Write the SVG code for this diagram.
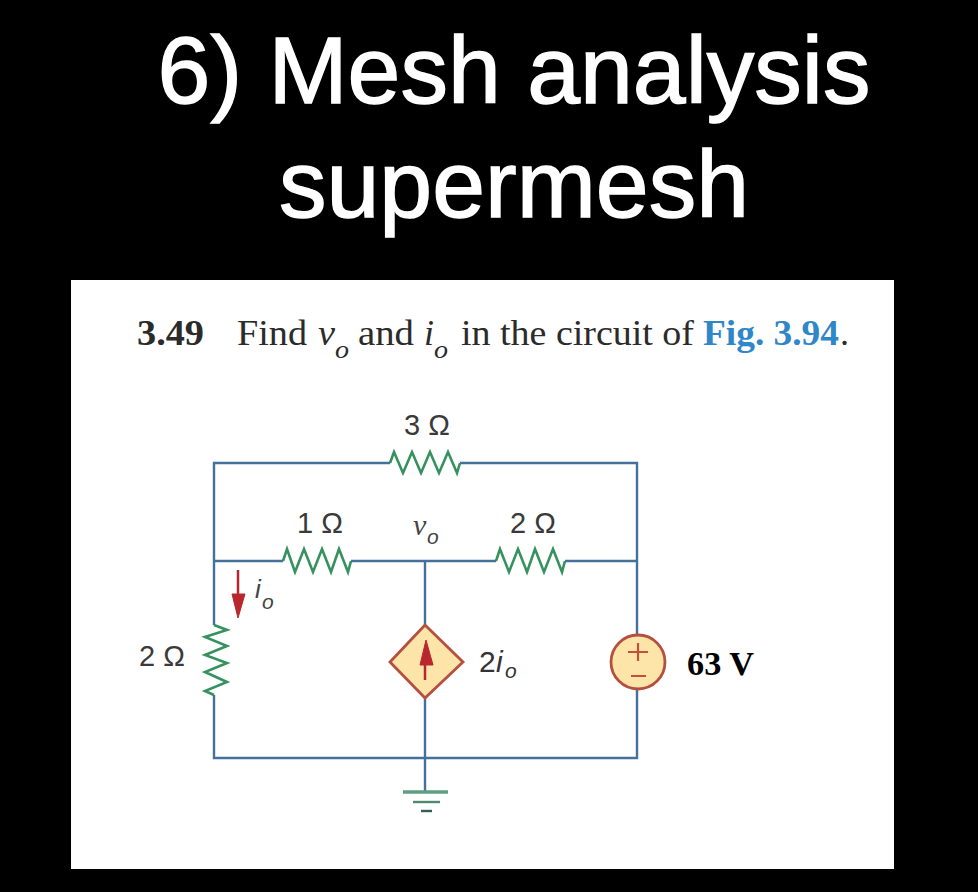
<svg xmlns="http://www.w3.org/2000/svg" width="978" height="892" viewBox="0 0 978 892">
<style>
.t{font-family:"Liberation Sans",Arial,sans-serif;fill:#fff;stroke:#fff;stroke-width:1.4px;font-size:95px;text-anchor:middle}
.s{font-family:"Liberation Serif","Times New Roman",serif;font-size:36px;fill:#2b2b2b}
.i{font-style:italic}
.f{font-family:"Liberation Serif","Times New Roman",serif;font-size:25px;font-style:italic;fill:#2b2b2b}
.l{font-family:"Liberation Sans",Arial,sans-serif;font-size:29px;fill:#3a3a3a;text-anchor:middle}
.q{font-family:"Liberation Sans",Arial,sans-serif;fill:#444}
.w{fill:none;stroke:#44709c;stroke-width:2.4}
.r{fill:none;stroke:#35925e;stroke-width:2.6;stroke-linejoin:miter}
.d{fill:#fde4a8;stroke:#b5503f;stroke-width:2.8}
.a{fill:#b8272e;stroke:#b8272e}
</style>
<rect width="978" height="892" fill="#000"/>
<text class="t" x="514" y="103">6) Mesh analysis</text>
<text class="t" x="514" y="217">supermesh</text>
<rect x="71" y="280" width="823" height="589" fill="#fff"/>
<g id="problem">
<text class="s" x="137" y="345" font-weight="bold" textLength="67" lengthAdjust="spacingAndGlyphs">3.49</text>
<text class="s" x="237" y="345" textLength="70" lengthAdjust="spacingAndGlyphs">Find</text>
<text class="s i" x="318" y="345" textLength="17" lengthAdjust="spacingAndGlyphs">v</text>
<text class="f" x="335" y="358" textLength="14" lengthAdjust="spacingAndGlyphs">o</text>
<text class="s" x="358" y="345" textLength="56" lengthAdjust="spacingAndGlyphs">and</text>
<text class="s i" x="424" y="345" textLength="10" lengthAdjust="spacingAndGlyphs">i</text>
<text class="f" x="434" y="358" textLength="14" lengthAdjust="spacingAndGlyphs">o</text>
<text class="s" x="461" y="345" textLength="233" lengthAdjust="spacingAndGlyphs">in the circuit of</text>
<text class="s" x="703" y="345" font-weight="bold" style="fill:#2f87c8" textLength="136" lengthAdjust="spacingAndGlyphs">Fig. 3.94</text>
<text class="s" x="840" y="345">.</text>
</g>
<g id="connectors">
<path class="w" d="M390,463H214V625M214,561H283M351,561H496M565,561H637M425,561V625M425,698V792M214,695V758H637V463H460M637,690V758M637,625V636"/>
</g>
<g id="r3"><polyline class="r" points="390,463 394,452 403,473 412,452 421,473 430,452 439,473 448,452 457,473 460,463"/><text class="l" x="427" y="435">3 Ω</text></g>
<g id="r1"><polyline class="r" points="283,561 287,549 295,572 304,549 313,572 322,549 331,572 339,549 348,572 351,561"/><text class="l" x="320" y="533">1 Ω</text></g>
<g id="r2"><polyline class="r" points="496,561 500,549 509,572 518,549 527,572 535,549 544,572 553,549 562,572 565,561"/><text class="l" x="533" y="533">2 Ω</text></g>
<g id="r2v"><polyline class="r" points="214,625 227,630 205,637 227,646 205,655 227,663 205,672 227,682 205,691 214,695"/><text class="l" x="162" y="666">2 Ω</text></g>
<g id="vo"><text x="413" y="535" font-family="Liberation Serif,serif" font-style="italic" font-size="30" fill="#444">v</text><text class="q i" x="427" y="544" font-size="21">o</text></g>
<g id="io"><line x1="238" y1="570" x2="238" y2="600" stroke="#b8272e" stroke-width="2.5"/><polygon class="a" points="232,594 245,594 238,618"/><text class="q i" x="255" y="598" font-size="26">i</text><text class="q i" x="262" y="609" font-size="21">o</text></g>
<g id="dep"><polygon class="d" points="425,625 463,662 425,698 390,662"/><line x1="425" y1="660" x2="425" y2="680" stroke="#b8272e" stroke-width="2.5"/><polygon class="a" points="426,640 420,665 433,665"/><text class="q" x="479" y="672" font-size="30" style="fill:#333">2</text><text class="q i" x="496" y="672" font-size="30" style="fill:#333">i</text><text class="q i" x="505" y="678" font-size="21" style="fill:#333">o</text></g>
<g id="src"><circle class="d" cx="638" cy="662" r="27"/><path d="M628,652H648M638,643V661M631,676H646" stroke="#c0503a" stroke-width="2.2" fill="none"/><text x="687" y="675" font-family="Liberation Serif,serif" font-weight="bold" font-size="34" fill="#000" textLength="67" lengthAdjust="spacingAndGlyphs">63 V</text></g>
<g id="gnd"><path d="M403,792H448" stroke="#5f9e80" stroke-width="3.5" fill="none"/><path d="M413,802H440" stroke="#4f8a70" stroke-width="2.4" fill="none"/><path d="M421,811H432" stroke="#2f5f55" stroke-width="2.4" fill="none"/></g>
</svg>
